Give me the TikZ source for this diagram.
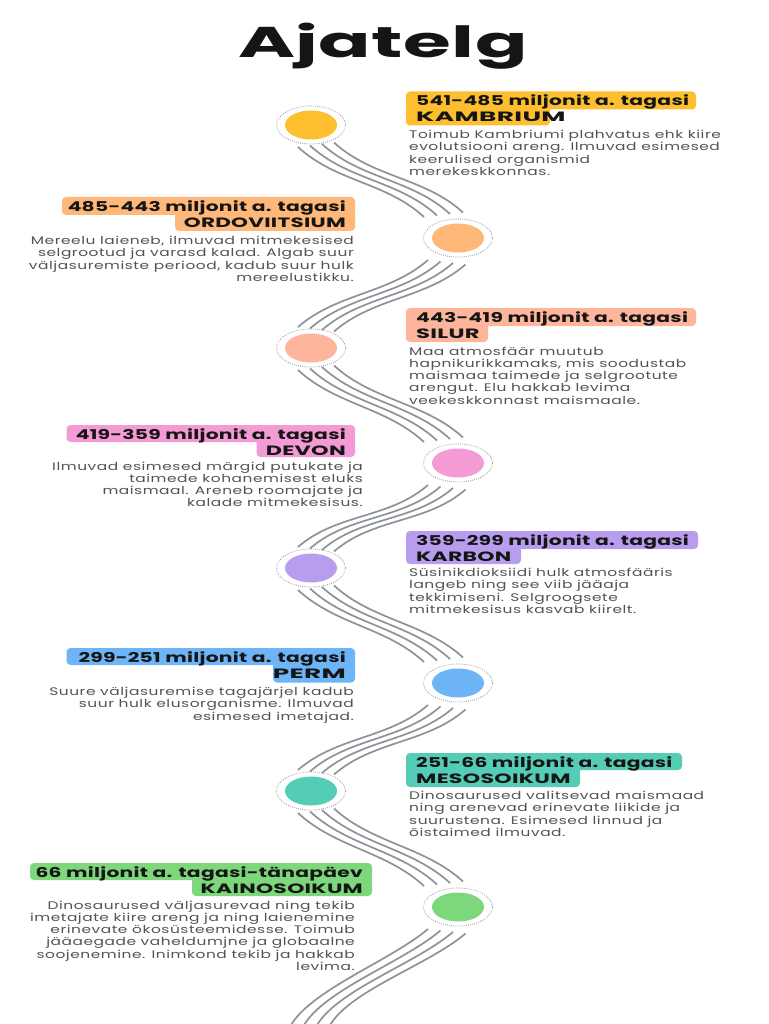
\documentclass[tikz,border=0pt]{standalone}
\usepackage{graphicx}
\usepackage{fontspec}
\setmainfont{Poppins}
\newfontfamily\titlefont{Poppins}[FakeStretch=1.8, LetterSpace=1]
\newfontfamily\headfont{Poppins}[FakeStretch=1.5, LetterSpace=2]
\newfontfamily\bodyfont{Poppins}[FakeStretch=1.4, LetterSpace=5]
\usetikzlibrary{calc,shapes.geometric}

\definecolor{cA}{HTML}{FDBF2F}
\definecolor{cB}{HTML}{FDB87A}
\definecolor{cC}{HTML}{FDB59B}
\definecolor{cD}{HTML}{F49BD6}
\definecolor{cE}{HTML}{B89DEE}
\definecolor{cF}{HTML}{6DB5F7}
\definecolor{cG}{HTML}{55CDB6}
\definecolor{cH}{HTML}{7DD87C}
\definecolor{wavegray}{HTML}{8D9398}
\definecolor{bodygray}{HTML}{535353}
\definecolor{ringgray}{HTML}{9A9A9A}
\definecolor{headink}{HTML}{151515}

% wider capitals line of a heading
\newcommand\capline[2]{\scalebox{#1}[1]{#2}}
% right-side tab box: colour, x0, top, x1, mid, x2, bottom
\newcommand\boxR[7]{%
  \fill[#1,rounded corners=4pt] (#2,#3) rectangle (#4,#5);
  \fill[#1,rounded corners=4pt] (#2,{#5-6}) rectangle (#6,#7);}
% left-side tab box: colour, x0, top, x1, mid, x2, bottom
\newcommand\boxL[7]{%
  \fill[#1,rounded corners=4pt] (#2,#3) rectangle (#4,#5);
  \fill[#1,rounded corners=4pt] (#6,{#5-6}) rectangle (#4,#7);}
\newcommand\waveDR[2]{%
  \foreach \k in {0,...,3}{%
    \draw[wave] ($(#1)+({-13+12*\k},{22-1.5*\k})$) .. controls +(38,35) and +(-38,-35) .. ($(#2)+({-34+13*\k},{-21-1.5*\k})$);}}
\newcommand\waveDL[2]{%
  \foreach \k in {0,...,3}{%
    \draw[wave] ($(#1)+({-30+12.5*\k},{22+1.5*\k})$) .. controls +(-39,34) and +(39,-34) .. ($(#2)+({-13+12*\k},{-21+1.5*\k})$);}}

\begin{document}
\begin{tikzpicture}[x=1pt,y=-1pt,
  circ/.style={ellipse, minimum width=52pt, minimum height=29pt, inner sep=0pt},
  ring/.style={ellipse, draw=ringgray, line width=0.8pt, dash pattern=on 0.8pt off 1.3pt, minimum width=69pt, minimum height=38pt, inner sep=0pt},
  wave/.style={draw=wavegray, line width=1.7pt},
  headR/.style={inner sep=0pt, anchor=base west, align=left, font=\headfont\bfseries\fontsize{13.5}{15.7}\selectfont, text=headink},
  headL/.style={inner sep=0pt, anchor=base east, align=right, font=\headfont\bfseries\fontsize{13.5}{15.7}\selectfont, text=headink},
  bodyR/.style={inner sep=0pt, anchor=base west, align=left, font=\bodyfont\fontsize{11}{12.3}\selectfont, text=bodygray},
  bodyL/.style={inner sep=0pt, anchor=base east, align=right, font=\bodyfont\fontsize{11}{12.3}\selectfont, text=bodygray}]
\useasboundingbox (0,0) rectangle (768,1024);
\fill[white] (0,0) rectangle (768,1024);

\node[anchor=base, inner sep=0pt, font=\titlefont\bfseries\fontsize{43}{43}\selectfont, text=headink] (title) at (383,58) {Ajatelg};

% circles
\foreach \n/\x/\y/\c in {c1/311/125/cA, c2/458/238/cB, c3/311/348/cC, c4/458/463/cD, c5/311/568/cE, c6/458/683/cF, c7/311/791/cG, c8/458/907/cH}{
  \node[circ, fill=\c] (\n) at (\x,\y) {};
  \node[ring] (r\n) at (\x,\y) {};
}
\coordinate (bot) at (287,1034);

\begin{scope}
\clip (0,0) rectangle (768,1024);
\waveDR{c1}{c2}
\waveDL{c2}{c3}
\waveDR{c3}{c4}
\waveDL{c4}{c5}
\waveDR{c5}{c6}
\waveDL{c6}{c7}
\waveDR{c7}{c8}
\foreach \k in {0,...,3}{%
  \draw[wave] ($(c8)+({-30+12.5*\k},{22+1.5*\k})$) .. controls +(-40,34) and +(12,-40) .. ($(bot)+({13*\k},0)$);}
\end{scope}

% heading boxes
\boxR{cA}{406}{91.5}{696}{109.5}{550}{125.5}
\boxL{cB}{62}{197}{355}{215}{175}{231}
\boxR{cC}{406}{308}{696}{326}{488}{342}
\boxL{cD}{66.5}{425}{355}{442}{256.5}{457}
\boxR{cE}{406}{531}{698}{549}{521}{564}
\boxL{cF}{66.5}{648}{355}{665}{273}{682.5}
\boxR{cG}{406}{753}{682}{770}{580}{787}
\boxL{cH}{30}{863}{372}{880}{192}{896}

% headings (base anchor = baseline of the last line)
\node[headR] (h1) at (416,121.7) {541-485 miljonit a. tagasi\\\capline{1.3}{KAMBRIUM}};
\node[headL] (h2) at (346,227.2) {485-443 miljonit a. tagasi\\\capline{1.06}{ORDOVIITSIUM}};
\node[headR] (h3) at (416,338.2) {443-419 miljonit a. tagasi\\\capline{1.12}{SILUR}};
\node[headL] (h4) at (346,455.2) {419-359 miljonit a. tagasi\\\capline{1.1}{DEVON}};
\node[headR] (h5) at (416,561.2) {359-299 miljonit a. tagasi\\\capline{1.08}{KARBON}};
\node[headL] (h6) at (346,678.2) {299-251 miljonit a. tagasi\\\capline{1.3}{PERM}};
\node[headR] (h7) at (416,783.2) {251-66 miljonit a. tagasi\\\capline{1.09}{MESOSOIKUM}};
\node[headL] (h8) at (363,893.2) {66 miljonit a. tagasi-tänapäev\\\capline{1.08}{KAINOSOIKUM}};

% bodies
\node[bodyR] (b1) at (409,175.4) {Toimub Kambriumi plahvatus ehk kiire\\evolutsiooni areng. Ilmuvad esimesed\\keerulised organismid\\merekeskkonnas.};
\node[bodyL] (b2) at (354,281.4) {Mereelu laieneb, ilmuvad mitmekesised\\selgrootud ja varasd kalad. Algab suur\\väljasuremiste periood, kadub suur hulk\\mereelustikku.};
\node[bodyR] (b3) at (409,404.2) {Maa atmosfäär muutub\\hapnikurikkamaks, mis soodustab\\maismaa taimede ja selgrootute\\arengut. Elu hakkab levima\\veekeskkonnast maismaale.};
\node[bodyL] (b4) at (363,506.9) {Ilmuvad esimesed märgid putukate ja\\taimede kohanemisest eluks\\maismaal. Areneb roomajate ja\\kalade mitmekesisus.};
\node[bodyR] (b5) at (409,613.4) {Süsinikdioksiidi hulk atmosfääris\\langeb ning see viib jääaja\\tekkimiseni. Selgroogsete\\mitmekesisus kasvab kiirelt.};
\node[bodyL] (b6) at (354,720.1) {Suure väljasuremise tagajärjel kadub\\suur hulk elusorganisme. Ilmuvad\\esimesed imetajad.};
\node[bodyR] (b7) at (409,836.4) {Dinosaurused valitsevad maismaad\\ning arenevad erinevate liikide ja\\suurustena. Esimesed linnud ja\\õistaimed ilmuvad.};
\node[bodyL] (b8) at (355,970.5) {Dinosaurused väljasurevad ning tekib\\imetajate kiire areng ja ning laienemine\\erinevate ökosüsteemidesse. Toimub\\jääaegade vaheldumjne ja globaalne\\soojenemine. Inimkond tekib ja hakkab\\levima.};
\end{tikzpicture}
\end{document}
